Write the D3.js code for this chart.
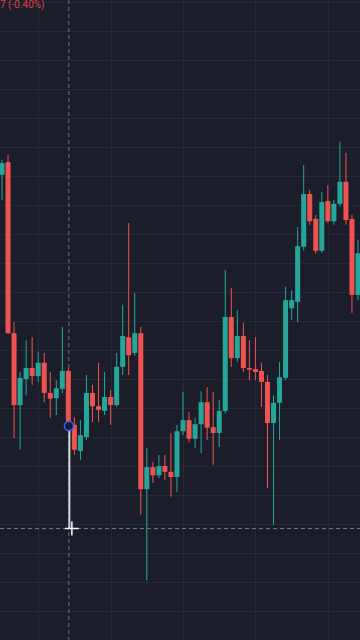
<!DOCTYPE html>
<html>
<head>
<meta charset="utf-8">
<script src="https://cdn.jsdelivr.net/npm/d3@7"></script>
<style>
    html, body { margin: 0; padding: 0; background: #1a1d29; overflow: hidden; }
    #chart { display: block; }
</style>
</head>
<body>
<div id="chart"></div>
<script>
// candle values (one entry per bar)
const openPrices  = [108.02, 108.24, 105.29, 104.05, 104.50, 104.69, 104.55, 104.78, 104.26, 104.17,
                     104.33, 104.64, 103.71, 103.26, 103.50, 104.26, 104.03, 103.95, 104.19, 104.05,
                     104.71, 105.22, 104.95, 105.29, 102.60, 102.98, 102.84, 103.00, 102.90, 102.81,
                     103.60, 103.79, 103.47, 103.72, 104.10, 103.67, 103.57, 103.95, 105.57, 104.86,
                     105.24, 104.69, 104.67, 104.64, 104.45, 103.74, 104.09, 104.52, 105.72, 105.83,
                     106.78, 107.69, 107.26, 106.71, 107.57, 107.22, 107.52, 107.90, 107.26, 105.95];
const highPrices  = [108.28, 108.36, 105.48, 104.62, 105.17, 105.22, 104.97, 104.95, 104.62, 104.48,
                     105.40, 104.69, 103.84, 103.79, 104.57, 104.40, 104.78, 104.62, 104.31, 104.95,
                     105.78, 107.19, 105.98, 105.40, 103.31, 103.07, 103.19, 103.19, 103.57, 103.71,
                     104.28, 103.93, 103.83, 104.29, 104.36, 104.28, 104.14, 106.38, 106.07, 105.69,
                     105.47, 105.17, 105.22, 104.78, 104.57, 104.22, 104.79, 106.09, 106.03, 107.12,
                     108.19, 107.76, 107.33, 107.72, 107.84, 107.59, 108.59, 108.40, 107.33, 106.90];
const lowPrices   = [107.59, 105.28, 103.48, 103.28, 104.22, 104.40, 104.45, 104.10, 103.83, 103.88,
                     104.26, 103.66, 103.19, 103.10, 103.45, 103.76, 103.76, 103.88, 103.71, 104.02,
                     104.57, 104.57, 104.90, 102.16, 101.03, 102.71, 102.79, 102.76, 102.47, 102.55,
                     103.53, 103.41, 103.31, 103.22, 103.45, 103.02, 103.33, 103.91, 104.71, 104.79,
                     104.62, 104.48, 104.48, 104.02, 102.62, 101.98, 103.45, 104.48, 105.52, 105.48,
                     106.72, 107.16, 106.66, 106.67, 107.19, 107.16, 107.48, 107.16, 105.64, 105.86];
const closePrices = [108.22, 105.29, 104.05, 104.52, 104.69, 104.55, 104.78, 104.26, 104.16, 104.34,
                     104.64, 103.69, 103.28, 103.53, 104.26, 104.03, 103.97, 104.19, 104.05, 104.71,
                     105.24, 104.91, 105.29, 102.60, 102.98, 102.84, 103.00, 102.90, 102.81, 103.60,
                     103.79, 103.47, 103.72, 104.10, 103.66, 103.57, 103.95, 105.57, 104.86, 105.24,
                     104.69, 104.66, 104.62, 104.45, 103.74, 104.09, 104.53, 105.86, 105.86, 106.79,
                     107.69, 107.22, 106.71, 107.55, 107.22, 107.52, 107.90, 107.24, 105.95, 106.67];

// price grid levels and time grid bars
const priceTicks = d3.range(100, 111.01, 0.5);
const timeTicks = [6, 18, 30, 42, 54];

// crosshair / measure state
const crossIndex = 11;
const crossPrice = 101.93;
const changeLabel = "7 (-0.40%)";

document.addEventListener("DOMContentLoaded", function () {
    const width = 360, height = 640;
    const upColor = "#26a69a", downColor = "#ef5350";

    const svg = d3.select("#chart").append("svg").attr("width", width).attr("height", height);

    svg.append("rect").attr("width", width).attr("height", height).attr("fill", "#1b1e2a");

    const bars = openPrices.map((o, i) => ({ i: i, o: o, h: highPrices[i], l: lowPrices[i], c: closePrices[i] }));

    const x = d3.scalePoint().domain(bars.map(d => d.i)).range([2, 358]);
    const y = d3.scaleLinear().domain([100, 111]).range([640, 2]);
    const bodyW = 5;

    // grid
    svg.append("g")
        .selectAll("line")
        .data(priceTicks)
        .join("line")
        .attr("x1", 0).attr("x2", width)
        .attr("y1", d => Math.round(y(d)) + 0.5).attr("y2", d => Math.round(y(d)) + 0.5)
        .attr("stroke", "#252936").attr("stroke-width", 1);

    svg.append("g")
        .selectAll("line")
        .data(timeTicks)
        .join("line")
        .attr("x1", d => Math.round(x(d)) + 0.5).attr("x2", d => Math.round(x(d)) + 0.5)
        .attr("y1", 0).attr("y2", height)
        .attr("stroke", "#252936").attr("stroke-width", 1);

    // top change label
    svg.append("text")
        .attr("x", 0).attr("y", 8)
        .attr("fill", "#d9404e")
        .attr("font-family", "Roboto, sans-serif")
        .attr("font-size", 10)
        .text(changeLabel);

    // vertical crosshair line behind the candles
    svg.append("line")
        .attr("x1", x(crossIndex) + 0.5).attr("x2", x(crossIndex) + 0.5)
        .attr("y1", 0).attr("y2", height)
        .attr("stroke", "#8a8e99").attr("stroke-width", 1)
        .attr("stroke-dasharray", "4,3").attr("opacity", 0.8);

    // candles
    const candles = svg.append("g").selectAll("g").data(bars).join("g");

    candles.append("line")
        .attr("x1", d => x(d.i)).attr("x2", d => x(d.i))
        .attr("y1", d => y(d.h)).attr("y2", d => y(d.l))
        .attr("stroke", d => d.c >= d.o ? upColor : downColor)
        .attr("stroke-width", 1);

    candles.append("rect")
        .attr("x", d => x(d.i) - bodyW / 2)
        .attr("y", d => y(Math.max(d.o, d.c)))
        .attr("width", bodyW)
        .attr("height", d => Math.max(1, Math.abs(y(d.o) - y(d.c))))
        .attr("fill", d => d.c >= d.o ? upColor : downColor);

    // horizontal crosshair
    svg.append("line")
        .attr("x1", 0).attr("x2", width)
        .attr("y1", y(crossPrice) + 0.5).attr("y2", y(crossPrice) + 0.5)
        .attr("stroke", "#8a8e99").attr("stroke-width", 1)
        .attr("stroke-dasharray", "4,3").attr("opacity", 0.8);

    // measure line from the bar close down to the cursor
    const cx = x(crossIndex) + 1;
    svg.append("line")
        .attr("x1", cx).attr("x2", cx)
        .attr("y1", y(closePrices[crossIndex])).attr("y2", y(crossPrice))
        .attr("stroke", "#d6d8de").attr("stroke-width", 2);

    svg.append("circle")
        .attr("cx", x(crossIndex) + 0.5).attr("cy", y(closePrices[crossIndex]))
        .attr("r", 4.5)
        .attr("fill", "#1b1e2a")
        .attr("stroke", "#2962ff").attr("stroke-width", 1.5);

    // cursor cross
    const px = x(crossIndex) + 3.5, py = y(crossPrice) + 0.5;
    svg.append("path")
        .attr("d", `M${px - 7},${py}H${px + 7}M${px},${py - 7}V${py + 7}`)
        .attr("stroke", "#f2f2f2").attr("stroke-width", 1.6)
        .attr("fill", "none");
});
</script>
</body>
</html>
